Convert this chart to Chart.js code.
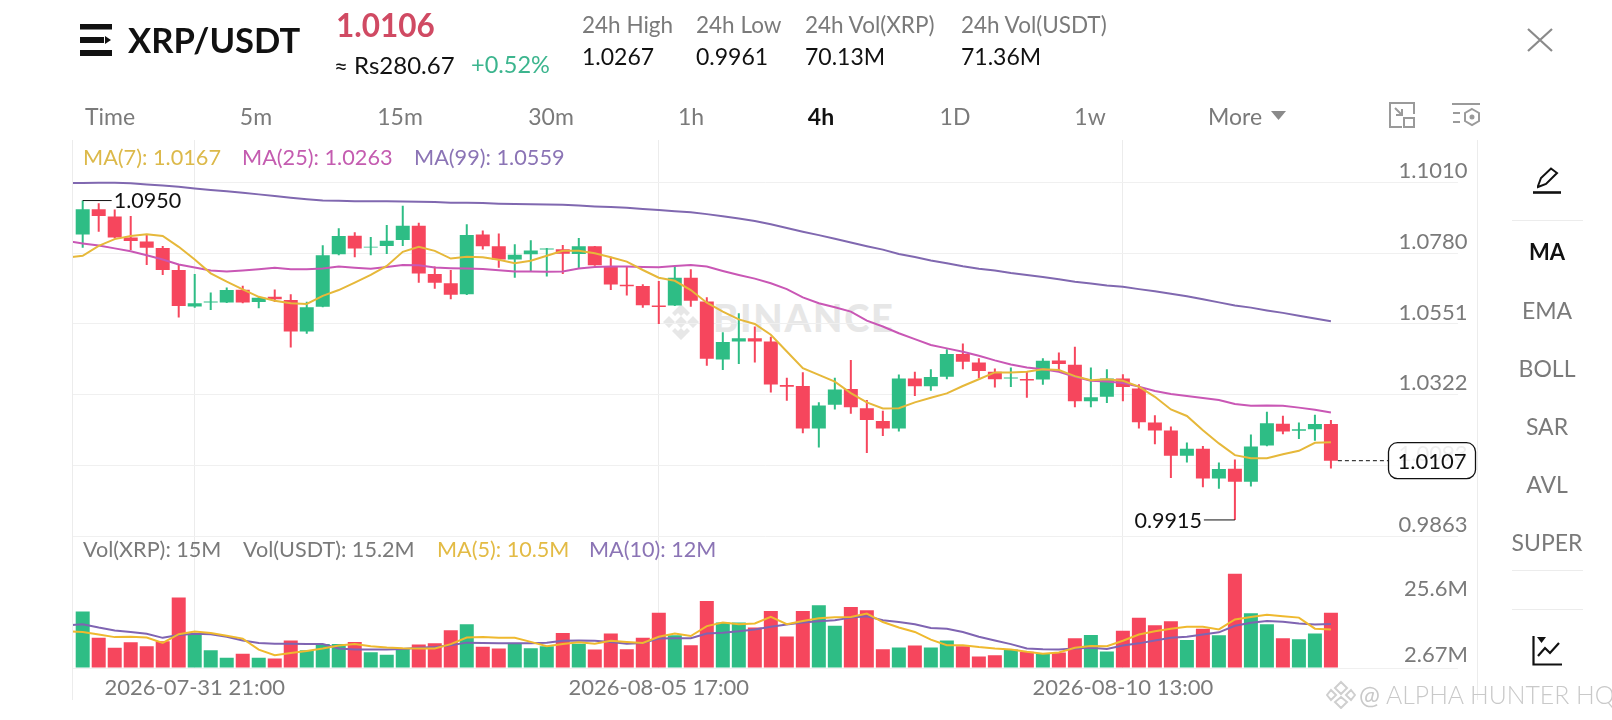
<!DOCTYPE html>
<html><head><meta charset="utf-8"><title>XRP/USDT</title>
<script src="https://cdn.jsdelivr.net/npm/chart.js@4"></script>
<style>
html,body{margin:0;padding:0;background:#fff;width:1612px;height:720px;overflow:hidden;font-family:Lato,"Noto Sans",sans-serif}
#c{position:absolute;left:0;top:0;width:1612px;height:720px}
.t{position:absolute;white-space:nowrap;line-height:1}
.l{position:absolute;background:#ececec}
svg{position:absolute}
</style></head><body>
<div class="t" style="left:713px;top:298px;font-size:38px;font-weight:900;color:#e7e7e7;letter-spacing:1.8px">BINANCE</div>
<svg style="left:662px;top:303px" width="38" height="38" viewBox="0 0 38 38" fill="#e7e7e7"><path d="M19 1l6 6-6 6-6-6zM7 13l6 6-6 6-6-6zM31 13l6 6-6 6-6-6zM19 13l6 6-6 6-6-6zM19 25l6 6-6 6-6-6zM13 7l3 3-3 3-3-3zM25 7l3 3-3 3-3-3zM13 25l3 3-3 3-3-3zM25 25l3 3-3 3-3-3z"/></svg>
<canvas id="c" width="1612" height="720"></canvas>
<div class="l" style="left:72px;top:140px;width:1px;height:560px"></div>
<div class="l" style="left:1477px;top:140px;width:1px;height:560px"></div>
<div class="l" style="left:1512px;top:220px;width:71px;height:1px"></div>
<div class="l" style="left:1512px;top:570px;width:71px;height:1px"></div>
<div class="l" style="left:1512px;top:609px;width:71px;height:1px"></div>
<svg style="left:80px;top:24px" width="32" height="32" viewBox="0 0 32 32" fill="#111"><rect width="32" height="5.5"/><rect y="13" width="24" height="6"/><path d="M26 12l6 4-6 4z" transform="translate(-1 0)"/><rect y="26" width="32" height="6"/></svg>
<svg style="left:1527px;top:28px" width="26" height="24" fill="none" stroke="#8a8a8a" stroke-width="2.2"><path d="M1 1l24 22M25 1L1 23"/></svg>
<svg style="left:1271px;top:111px" width="15" height="9" fill="#8a8a8a"><path d="M0 0h15l-7.5 9z"/></svg>
<svg style="left:1389px;top:102px" width="27" height="26" fill="none" stroke="#9a9a9a" stroke-width="2"><path d="M12 1H1v24h12M1 1h24v11M6 6l7 7M13 7v6H7"/><rect x="15" y="16" width="10" height="9"/></svg>
<svg style="left:1452px;top:102px" width="28" height="25" fill="none" stroke="#9a9a9a" stroke-width="2"><path d="M0 2h28M1 11h7M1 20h7"/><path d="M20 7l7 4v8l-7 4-7-4v-8z"/><circle cx="20" cy="15" r="1.5" fill="#9a9a9a"/></svg>
<svg style="left:1533px;top:167px" width="28" height="27" fill="none" stroke="#111" stroke-width="2"><path d="M5 19l3-8L18 1.500l6 4.500-11 11-8 3z"/><path d="M0 25.500h28" stroke-width="2.600"/></svg>
<svg style="left:1532px;top:636px" width="30" height="30" fill="none" stroke="#111" stroke-width="2.200"><path d="M1.500 0v28.500H30M6 20l7-8 5 5 9-10"/><path d="M5 1h9l-4.500 6z" fill="#111" stroke="none"/></svg>
<svg style="left:1326px;top:680px" width="30" height="29" fill="none" stroke="#cfcfcf" stroke-width="2"><path d="M15 2l6 6-6 6-6-6zM5 10l5 5-5 5-4-5zM25 10l4 5-4 5-5-5zM15 17l6 5-6 6-6-6z"/></svg>
<script>
// Candles (price in USDT). One 4h candle per entry.
const openPrices = [1.0840,1.0922,1.0898,1.0830,1.0817,1.0796,1.0725,1.0607,1.0620,1.0620,1.0661,1.0621,1.0638,1.0628,1.0526,1.0606,1.0776,1.0836,1.0798,1.0803,1.0822,1.0868,1.0712,1.0682,1.0646,1.0840,1.0802,1.0759,1.0776,1.0791,1.0792,1.0777,1.0802,1.0736,1.0677,1.0673,1.0610,1.0610,1.0700,1.0623,1.0435,1.0493,1.0504,1.0493,1.0352,1.0349,1.0211,1.0288,1.0339,1.0277,1.0236,1.0211,1.0373,1.0348,1.0379,1.0453,1.0425,1.0395,1.0373,1.0372,1.0370,1.0432,1.0418,1.0300,1.0314,1.0373,1.0341,1.0231,1.0205,1.0123,1.0146,1.0049,1.0081,1.0039,1.0156,1.0227,1.0204,1.0209,1.0226];
const closePrices = [1.0922,1.0900,1.0830,1.0819,1.0797,1.0725,1.0608,1.0617,1.0623,1.0660,1.0620,1.0635,1.0630,1.0526,1.0604,1.0773,1.0835,1.0795,1.0800,1.0820,1.0868,1.0714,1.0684,1.0645,1.0838,1.0802,1.0759,1.0774,1.0788,1.0795,1.0778,1.0802,1.0740,1.0678,1.0672,1.0611,1.0605,1.0700,1.0625,1.0437,1.0492,1.0504,1.0493,1.0354,1.0347,1.0211,1.0286,1.0338,1.0280,1.0239,1.0211,1.0373,1.0348,1.0378,1.0453,1.0428,1.0398,1.0371,1.0377,1.0367,1.0431,1.0420,1.0300,1.0313,1.0373,1.0346,1.0232,1.0205,1.0123,1.0146,1.0049,1.0080,1.0039,1.0153,1.0228,1.0202,1.0209,1.0226,1.0107];
const highPrices = [1.0950,1.0941,1.0921,1.0900,1.0838,1.0803,1.0741,1.0712,1.0652,1.0668,1.0674,1.0641,1.0662,1.0646,1.0622,1.0805,1.0860,1.0847,1.0832,1.0871,1.0933,1.0878,1.0736,1.0725,1.0873,1.0853,1.0843,1.0808,1.0821,1.0796,1.0806,1.0829,1.0803,1.0768,1.0736,1.0679,1.0689,1.0738,1.0727,1.0637,1.0523,1.0585,1.0542,1.0509,1.0376,1.0394,1.0296,1.0376,1.0433,1.0304,1.0269,1.0386,1.0395,1.0403,1.0468,1.0487,1.0439,1.0406,1.0409,1.0395,1.0439,1.0458,1.0476,1.0409,1.0403,1.0387,1.0355,1.0254,1.0218,1.0166,1.0155,1.0101,1.0111,1.0192,1.0266,1.0253,1.0231,1.0256,1.0239];
const lowPrices = [1.0797,1.0849,1.0827,1.0790,1.0741,1.0709,1.0571,1.0603,1.0595,1.0618,1.0617,1.0601,1.0621,1.0474,1.0518,1.0604,1.0773,1.0766,1.0773,1.0777,1.0803,1.0684,1.0664,1.0630,1.0644,1.0791,1.0732,1.0700,1.0720,1.0704,1.0712,1.0731,1.0739,1.0660,1.0642,1.0603,1.0550,1.0608,1.0606,1.0415,1.0401,1.0420,1.0425,1.0328,1.0301,1.0196,1.0150,1.0273,1.0259,1.0132,1.0187,1.0202,1.0317,1.0334,1.0371,1.0403,1.0374,1.0344,1.0346,1.0311,1.0353,1.0401,1.0280,1.0280,1.0294,1.0300,1.0211,1.0160,1.0051,1.0101,1.0021,1.0016,0.9915,1.0023,1.0154,1.0193,1.0177,1.0172,1.0082];
// Moving averages: first entry belongs to the candle just off the left edge.
const ma7 = [1.0765,1.0771,1.0803,1.0825,1.0835,1.0841,1.0835,1.0800,1.0759,1.0714,1.0687,1.0662,1.0638,1.0625,1.0617,1.0615,1.0641,1.0660,1.0684,1.0709,1.0738,1.0784,1.0800,1.0787,1.0762,1.0768,1.0766,1.0758,1.0747,1.0755,1.0771,1.0787,1.0787,1.0779,1.0766,1.0752,1.0725,1.0700,1.0690,1.0660,1.0619,1.0590,1.0565,1.0550,1.0515,1.0461,1.0407,1.0385,1.0363,1.0326,1.0296,1.0276,1.0277,1.0296,1.0311,1.0325,1.0349,1.0371,1.0393,1.0393,1.0395,1.0403,1.0401,1.0381,1.0368,1.0371,1.0366,1.0347,1.0314,1.0273,1.0252,1.0206,1.0163,1.0125,1.0115,1.0115,1.0128,1.0139,1.0165,1.0167];
const ma25 = [1.0819,1.0811,1.0804,1.0795,1.0786,1.0773,1.0759,1.0743,1.0733,1.0723,1.0720,1.0723,1.0727,1.0732,1.0727,1.0727,1.0730,1.0736,1.0732,1.0729,1.0735,1.0741,1.0740,1.0733,1.0731,1.0730,1.0728,1.0724,1.0720,1.0720,1.0719,1.0720,1.0730,1.0735,1.0736,1.0736,1.0735,1.0734,1.0738,1.0741,1.0736,1.0722,1.0709,1.0697,1.0682,1.0663,1.0636,1.0617,1.0604,1.0590,1.0561,1.0542,1.0520,1.0501,1.0482,1.0471,1.0460,1.0447,1.0432,1.0419,1.0409,1.0403,1.0395,1.0379,1.0366,1.0364,1.0359,1.0347,1.0333,1.0323,1.0317,1.0310,1.0304,1.0291,1.0285,1.0286,1.0285,1.0279,1.0272,1.0263];
const ma99 = [1.1007,1.1007,1.1008,1.1008,1.1006,1.1002,1.0999,1.0995,1.0989,1.0984,1.0980,1.0975,1.0970,1.0965,1.0959,1.0954,1.0950,1.0949,1.0948,1.0948,1.0948,1.0947,1.0946,1.0945,1.0943,1.0943,1.0942,1.0940,1.0939,1.0938,1.0937,1.0936,1.0934,1.0931,1.0929,1.0927,1.0923,1.0919,1.0915,1.0912,1.0906,1.0899,1.0892,1.0884,1.0873,1.0861,1.0849,1.0838,1.0826,1.0814,1.0802,1.0791,1.0777,1.0767,1.0756,1.0747,1.0737,1.0729,1.0723,1.0715,1.0709,1.0702,1.0695,1.0687,1.0681,1.0675,1.0671,1.0663,1.0656,1.0648,1.0640,1.0630,1.0620,1.0610,1.0603,1.0594,1.0586,1.0577,1.0568,1.0559];
// Volume in millions of XRP.
const volumes = [15.4,8.2,5.5,7.0,5.9,7.3,19.2,9.4,4.8,2.8,3.9,2.8,2.6,7.5,4.8,6.5,6.5,7.1,4.3,3.6,5.3,6.4,6.7,10.3,11.9,5.8,5.3,6.8,5.4,5.9,9.5,6.6,5.0,9.4,5.1,8.2,15.0,8.9,6.2,18.2,12.4,12.4,11.0,15.5,8.6,15.5,17.1,11.5,16.6,15.7,5.1,5.6,6.1,5.6,7.5,5.9,3.1,3.5,5.0,4.4,3.8,4.2,8.1,9.0,4.5,10.1,13.7,11.6,12.7,7.6,10.7,8.9,25.6,14.9,11.9,8.1,7.8,9.4,15.0];
const volMa5 = [10.0,9.8,9.1,8.4,8.5,8.3,6.8,9.2,9.9,9.5,8.8,8.0,5.0,3.5,4.1,4.6,5.3,6.1,6.5,5.9,5.6,5.4,5.3,5.3,6.5,8.3,8.4,8.2,8.2,7.1,5.9,6.5,7.0,6.6,7.4,7.1,6.8,8.5,9.4,8.7,11.4,12.4,11.9,12.1,13.9,11.9,12.8,13.5,13.8,13.9,14.8,12.5,11.0,9.8,7.7,6.2,6.2,5.7,5.3,5.0,4.4,3.9,4.2,5.5,6.0,5.9,7.4,9.1,10.0,10.7,11.2,11.2,10.5,13.2,13.9,14.5,14.1,13.7,10.7,10.5];
const volMa10 = [11.6,11.9,11.0,10.2,9.8,9.3,8.2,9.0,9.3,9.2,8.5,7.5,6.8,6.6,6.6,6.5,6.5,5.3,5.0,5.0,5.0,5.2,5.5,5.7,6.2,6.9,6.8,6.7,6.7,6.7,6.9,7.4,7.5,7.4,7.1,6.6,6.8,8.0,8.1,8.1,9.4,9.6,10.0,10.5,11.2,11.8,12.4,12.7,13.0,13.7,14.1,13.0,12.5,11.9,10.9,10.7,9.8,8.5,7.5,6.5,5.3,5.1,5.0,5.3,5.5,5.2,6.1,6.7,7.5,8.2,8.5,9.1,9.7,11.5,12.3,12.8,12.6,12.1,11.8,12.0];
const priceTicks = [1.1010,1.0780,1.0551,1.0322,1.0093,0.9863];
const volTickValues = [25.6,2.67];
const volTickLabels = ['25.6M','2.67M'];
const timeTickIndex = [7,36,65];
const timeTickLabels = ['2026-07-31 21:00','2026-08-05 17:00','2026-08-10 13:00'];
const highMark = {index:0,value:1.0950,text:'1.0950'};
const lowMark = {index:72,value:0.9915,text:'0.9915'};
const lastPrice = {value:1.0107,text:'1.0107'};

const FONT = 'Lato, "Noto Sans", sans-serif';
const UP = '#2ebd85', DOWN = '#f6465d', GREY = '#7a7a7a';
const T = (txt,x,cy,size,color,weight,align) => {
  const d = document.createElement('div'); d.className='t'; d.textContent = txt;
  d.style.cssText += `top:${cy-size/2}px;font-size:${size}px;color:${color};font-weight:${weight||400};`;
  if(align==='c'){d.style.left=x+'px';d.style.transform='translateX(-50%)';} else d.style.left=x+'px';
  document.body.appendChild(d);
};
T('XRP/USDT',128,40,34.6,'#111',700);
T('1.0106',336,26,31.5,'#d04a63',700);
T('≈ Rs280.67',334,65,24,'#111',400);
T('+0.52%',471,65,23.5,'#3cb58e',400);
[['24h High','1.0267',582],['24h Low','0.9961',696],['24h Vol(XRP)','70.13M',805],['24h Vol(USDT)','71.36M',961]].forEach(r=>{
  T(r[0],r[2],25,22.5,GREY); T(r[1],r[2],56,23,'#111');
});
[['Time',110],['5m',256],['15m',400],['30m',551],['1h',691],['4h',821],['1D',955],['1w',1090],['More',1235]].forEach(r=>{
  T(r[0],r[1],116,23,r[0]==='4h'?'#111':GREY,r[0]==='4h'?700:400,'c');
});
[['MA',252],['EMA',310],['BOLL',368],['SAR',426],['AVL',484],['SUPER',542]].forEach(r=>{
  T(r[0],1547,r[1],r[0]==='MA'?22:23,r[0]==='MA'?'#111':GREY,r[0]==='MA'?700:400,'c');
});
[['MA(7): 1.0167',83,'#dcb94a'],['MA(25): 1.0263',242,'#c45cb0'],['MA(99): 1.0559',414,'#8b74b5']].forEach(r=>T(r[0],r[1],158,21.7,r[2]));
[['Vol(XRP): 15M',83,GREY],['Vol(USDT): 15.2M',243,GREY],['MA(5): 10.5M',437,'#e3bb45'],['MA(10): 12M',589,'#8b74b5']].forEach(r=>T(r[0],r[1],550,21.6,r[2]));
T('@',1359,694,25,'#c9c9c9');
T('ALPHA HUNTER HQ',1386,695,24.8,'#c9c9c9',300);

const idx = openPrices.map((_,i)=>i);
const colorOf = c => closePrices[c.dataIndex] >= openPrices[c.dataIndex] ? UP : DOWN;
const line = (label,values,yAxisID,color,w) => ({type:'line',label,yAxisID,order:0,borderColor:color,borderWidth:w,pointRadius:0,tension:0,
  data:values.map((v,i)=>({x:i-1,y:v}))});
const overlay = {
  id:'overlay',
  afterDatasetsDraw(chart){
    const {ctx,scales:{x,y,v},chartArea:a} = chart;
    ctx.save();
    ctx.font = '21.5px '+FONT; ctx.textBaseline='middle'; ctx.strokeStyle='#111'; ctx.lineWidth=1; ctx.fillStyle='#111';
    let px=x.getPixelForValue(highMark.index), py=y.getPixelForValue(highMark.value);
    ctx.beginPath();ctx.moveTo(px,py);ctx.lineTo(px+29,py);ctx.stroke();
    ctx.textAlign='left';ctx.fillText(highMark.text,px+31,py+1);
    px=x.getPixelForValue(lowMark.index);py=y.getPixelForValue(lowMark.value);
    ctx.beginPath();ctx.moveTo(px,py);ctx.lineTo(px-31,py);ctx.stroke();
    ctx.textAlign='right';ctx.fillText(lowMark.text,px-33,py+1);
    // last price
    const lx=x.getPixelForValue(openPrices.length-1), ly=y.getPixelForValue(lastPrice.value);
    ctx.setLineDash([4,3]);ctx.beginPath();ctx.moveTo(lx+7,ly);ctx.lineTo(1388,ly);ctx.stroke();ctx.setLineDash([]);
    ctx.beginPath();ctx.roundRect(1388.5,ly-18,87,36,9);ctx.fillStyle='rgba(255,255,255,.88)';ctx.fill();ctx.lineWidth=1.3;ctx.stroke();
    ctx.fillStyle='#111';ctx.textAlign='center';ctx.font='22px '+FONT;ctx.fillText(lastPrice.text,1432,ly+1);
    // volume axis labels sit inside the panel
    ctx.font='22px '+FONT;ctx.textAlign='right';ctx.fillStyle=GREY;
    const off=[15,-3];
    volTickValues.forEach((val,i)=>ctx.fillText(volTickLabels[i],1468,v.getPixelForValue(val)+off[i]));
    ctx.restore();
  }
};
new Chart(document.getElementById('c'),{
  type:'bar',
  plugins:[overlay],
  data:{datasets:[
    line('MA(7)',ma7,'y','#e6b83a',2),
    line('MA(25)',ma25,'y','#c957b5',2),
    line('MA(99)',ma99,'y','#8068b0',2),
    line('Vol MA(5)',volMa5,'v','#efb92e',2),
    line('Vol MA(10)',volMa10,'v','#7f64b2',2),
    {label:'Body',yAxisID:'y',order:1,barThickness:14,data:idx.map(i=>({x:i,y:[openPrices[i],closePrices[i]]})),backgroundColor:colorOf},
    {label:'Wick',yAxisID:'y',order:2,barThickness:2,data:idx.map(i=>({x:i,y:[lowPrices[i],highPrices[i]]})),backgroundColor:colorOf},
    {label:'Volume',yAxisID:'v',order:1,barThickness:14,data:idx.map(i=>({x:i,y:volumes[i]})),backgroundColor:colorOf}
  ]},
  options:{
    responsive:false,animation:false,devicePixelRatio:1,
    layout:{padding:{left:72.7,right:134.5,top:140,bottom:0}},
    plugins:{legend:{display:false},tooltip:{enabled:false}},
    datasets:{bar:{grouped:false,borderWidth:0,inflateAmount:0,borderSkipped:false}},
    scales:{
      x:{type:'linear',offset:false,min:-0.625,max:85.91,
        afterBuildTicks:s=>{s.ticks=timeTickIndex.map(value=>({value}));},
        afterFit:s=>{s.height=52;},
        grid:{offset:false,color:'#ececec',drawTicks:false},border:{display:false},
        ticks:{maxRotation:0,autoSkip:false,padding:7,color:GREY,font:{family:FONT,size:22},
          callback:v=>timeTickLabels[timeTickIndex.indexOf(v)]}},
      y:{position:'right',stack:'panes',stackWeight:396,min:0.9863,max:1.11462,
        afterBuildTicks:s=>{s.ticks=priceTicks.map(value=>({value}));},
        grid:{color:'#f0f0f0',drawTicks:false},border:{display:false},
        ticks:{mirror:true,padding:10,labelOffset:-11,color:GREY,font:{family:FONT,size:22},
          callback:v=>v.toFixed(4)}},
      v:{position:'right',stack:'panes',stackWeight:132,min:0,max:35.9,
        afterBuildTicks:s=>{s.ticks=[{value:0}];},
        grid:{color:'#f0f0f0',drawTicks:false},border:{display:false},
        ticks:{display:false}}
    }
  }
});
</script></body></html>
